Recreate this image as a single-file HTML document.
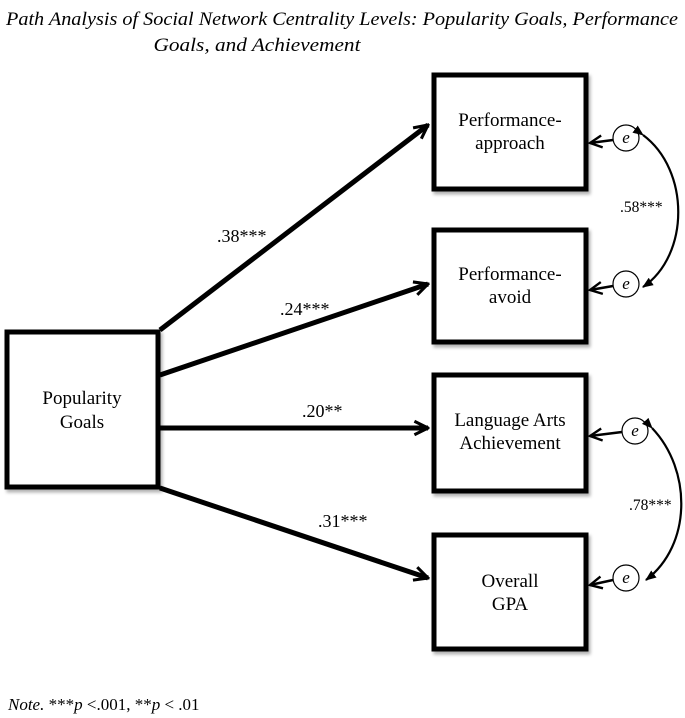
<!DOCTYPE html>
<html><head><meta charset="utf-8"><style>
html,body{margin:0;padding:0;background:#fff;}
svg{display:block;}
</style></head><body>
<svg width="685" height="718" viewBox="0 0 685 718" xmlns="http://www.w3.org/2000/svg" font-family="'Liberation Serif', 'Times New Roman', serif">
<defs>
<filter id="sh" x="-10%" y="-10%" width="130%" height="130%"><feDropShadow dx="2" dy="3" stdDeviation="1.5" flood-color="#000" flood-opacity="0.3"/></filter>
<marker id="ah" viewBox="0 0 10 10" refX="9" refY="5" markerWidth="3.4" markerHeight="3.4" orient="auto"><path d="M1,1 L9,5 L1,9" fill="none" stroke="#000" stroke-width="1.8"/></marker>
<marker id="as" viewBox="0 0 10 10" refX="9" refY="5" markerWidth="6" markerHeight="6" orient="auto"><path d="M1,1 L9,5 L1,9" fill="none" stroke="#000" stroke-width="1.6"/></marker>
<marker id="tri" viewBox="0 0 10 10" refX="9" refY="5" markerWidth="5" markerHeight="5" orient="auto"><path d="M0,1 L10,5 L0,9 Z" fill="#000"/></marker>
</defs>
<g font-style="italic" font-size="18.5" text-anchor="middle" font-family="'Liberation Serif', serif">
<text x="342" y="25" textLength="672" lengthAdjust="spacingAndGlyphs">Path Analysis of Social Network Centrality Levels: Popularity Goals, Performance</text>
<text x="257" y="51" textLength="207" lengthAdjust="spacingAndGlyphs">Goals, and Achievement</text>
</g>
<g fill="#fff" stroke="#000" stroke-width="5" filter="url(#sh)">
<rect x="7" y="332" width="151" height="155"/>
<rect x="434" y="75" width="152" height="114"/>
<rect x="434" y="230" width="152" height="112"/>
<rect x="434" y="375" width="152" height="116"/>
<rect x="434" y="535" width="152" height="114"/>
</g>
<g stroke="#000" stroke-width="5" fill="none" marker-end="url(#ah)">
<line x1="160" y1="330" x2="428" y2="125"/>
<line x1="160" y1="375" x2="428" y2="284"/>
<line x1="160" y1="428" x2="428" y2="428"/>
<line x1="160" y1="488" x2="428" y2="578"/>
</g>
<g font-size="19" text-anchor="middle" font-family="'Liberation Serif', serif">
<text x="82" y="404">Popularity</text><text x="82" y="428">Goals</text>
<text x="510" y="126">Performance-</text><text x="510" y="149">approach</text>
<text x="510" y="280">Performance-</text><text x="510" y="303">avoid</text>
<text x="510" y="426">Language Arts</text><text x="510" y="449">Achievement</text>
<text x="510" y="587">Overall</text><text x="510" y="610">GPA</text>
</g>
<g font-size="18" font-family="'Liberation Serif', serif">
<text x="217" y="242">.38***</text>
<text x="280" y="315">.24***</text>
<text x="302" y="417">.20**</text>
<text x="318" y="527">.31***</text>
</g>
<g stroke="#000" stroke-width="1.2" fill="#fff">
<circle cx="626" cy="138" r="13"/>
<circle cx="626" cy="284" r="13"/>
<circle cx="635" cy="431" r="13"/>
<circle cx="626" cy="578" r="13"/>
</g>
<g font-size="17" font-style="italic" text-anchor="middle" font-family="'Liberation Serif', serif">
<text x="626" y="143">e</text><text x="626" y="289">e</text><text x="635" y="436">e</text><text x="626" y="583">e</text>
</g>
<g stroke="#000" stroke-width="2.5" fill="none" marker-end="url(#as)">
<line x1="613" y1="140" x2="590" y2="143"/>
<line x1="613" y1="286" x2="590" y2="290"/>
<line x1="622" y1="432" x2="590" y2="436"/>
<line x1="613" y1="580" x2="590" y2="585"/>
</g>
<g stroke="#000" stroke-width="2.2" fill="none" marker-start="url(#tri)" marker-end="url(#tri)">
<path d="M643,135 C690,170 690,255 643,287"/>
<path d="M652,428 C692,470 692,545 646,580"/>
</g>
<g font-size="15.5" font-family="'Liberation Serif', serif">
<text x="620" y="212">.58***</text>
<text x="629" y="510">.78***</text>
</g>
<text x="8" y="710" font-size="17" font-family="'Liberation Serif', serif"><tspan font-style="italic">Note.</tspan> ***<tspan font-style="italic">p</tspan> &lt;.001, **<tspan font-style="italic">p</tspan> &lt; .01</text>
</svg>
</body></html>
